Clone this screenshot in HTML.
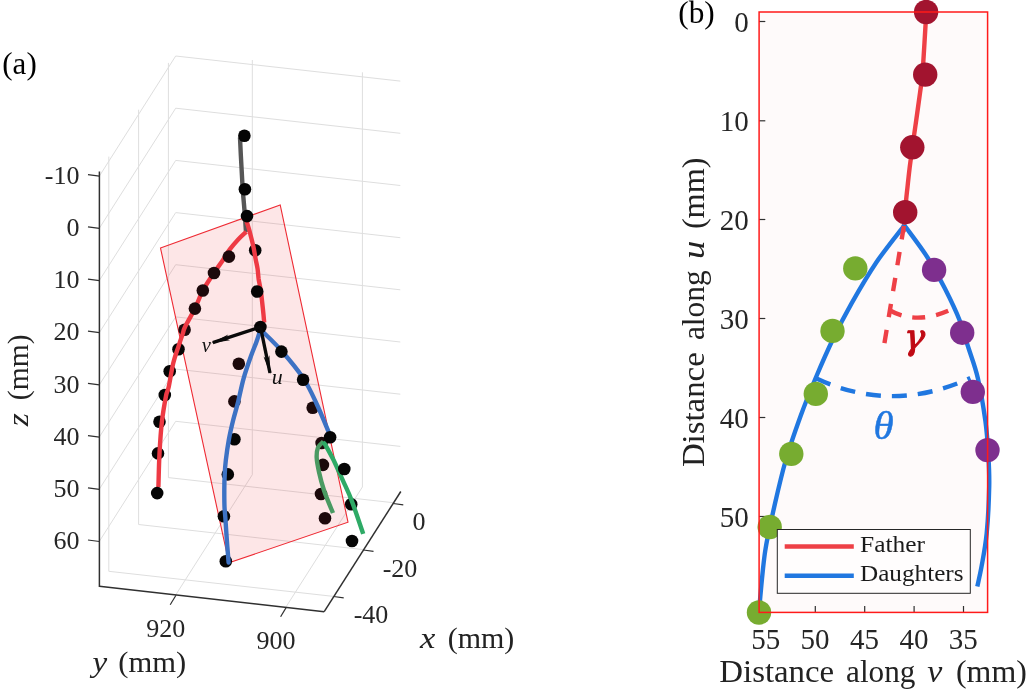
<!DOCTYPE html>
<html><head><meta charset="utf-8"><title>Figure</title>
<style>
html,body{margin:0;padding:0;background:#fff;}
svg{display:block;font-family:"Liberation Serif",serif;}
.g{stroke:#dedede;stroke-width:1;fill:none;}
.ax{stroke:#303030;stroke-width:1.5;fill:none;}
.tl{stroke:#303030;stroke-width:1.2;fill:none;}
.tk{font-size:26px;fill:#262626;}
.tk2{font-size:29px;fill:#262626;}
.lb{font-size:28px;fill:#222;}
.cv{fill:none;stroke-width:4.4;stroke-linecap:butt;stroke-linejoin:round;}
</style></head>
<body>
<svg width="1027" height="691" viewBox="0 0 1027 691">
<rect width="1027" height="691" fill="#fff"/>
<!-- left plot -->
<g id="grid">
<line class="g" x1="99.3" y1="176.2" x2="175.7" y2="56.0"/>
<line class="g" x1="175.7" y1="56.0" x2="400.3" y2="81.1"/>
<line class="g" x1="99.3" y1="228.3" x2="175.7" y2="108.2"/>
<line class="g" x1="175.7" y1="108.2" x2="400.3" y2="133.3"/>
<line class="g" x1="99.3" y1="280.5" x2="175.7" y2="160.4"/>
<line class="g" x1="175.7" y1="160.4" x2="400.3" y2="185.5"/>
<line class="g" x1="99.3" y1="332.7" x2="175.7" y2="212.6"/>
<line class="g" x1="175.7" y1="212.6" x2="400.3" y2="237.7"/>
<line class="g" x1="99.3" y1="384.9" x2="175.7" y2="264.7"/>
<line class="g" x1="175.7" y1="264.7" x2="400.3" y2="289.8"/>
<line class="g" x1="99.3" y1="437.1" x2="175.7" y2="316.9"/>
<line class="g" x1="175.7" y1="316.9" x2="400.3" y2="342.0"/>
<line class="g" x1="99.3" y1="489.2" x2="175.7" y2="369.1"/>
<line class="g" x1="175.7" y1="369.1" x2="400.3" y2="394.2"/>
<line class="g" x1="99.3" y1="541.4" x2="175.7" y2="421.3"/>
<line class="g" x1="175.7" y1="421.3" x2="400.3" y2="446.4"/>
<line class="g" x1="108.8" y1="156.6" x2="108.8" y2="571.3"/>
<line class="g" x1="108.8" y1="571.3" x2="333.4" y2="596.4"/>
<line class="g" x1="138.6" y1="109.7" x2="138.6" y2="524.5"/>
<line class="g" x1="138.6" y1="524.5" x2="363.2" y2="549.6"/>
<line class="g" x1="168.4" y1="62.9" x2="168.4" y2="477.6"/>
<line class="g" x1="168.4" y1="477.6" x2="393.0" y2="502.7"/>
<line class="g" x1="252.3" y1="60.0" x2="252.3" y2="474.7"/>
<line class="g" x1="252.3" y1="474.7" x2="175.8" y2="594.8"/>
<line class="g" x1="362.4" y1="72.3" x2="362.4" y2="487.0"/>
<line class="g" x1="362.4" y1="487.0" x2="285.9" y2="607.1"/>
</g>
<polygon points="160.5,248 280.2,205 348,522.2 228.9,562.8" fill="#f0303c" fill-opacity="0.12" stroke="#ee2a33" stroke-width="1.1"/>
<g id="dotsb">
<circle cx="255.2" cy="250.2" r="6.3" fill="#050505"/>
<circle cx="184.6" cy="329.7" r="6.3" fill="#1c090b"/>
<circle cx="178.5" cy="349.2" r="6.3" fill="#050505"/>
<circle cx="169.7" cy="371.3" r="6.3" fill="#050505"/>
<circle cx="164.8" cy="395.0" r="6.3" fill="#050505"/>
<circle cx="159.5" cy="421.8" r="6.3" fill="#050505"/>
<circle cx="158.0" cy="453.4" r="6.3" fill="#050505"/>
<circle cx="234.4" cy="401.4" r="6.3" fill="#1c090b"/>
<circle cx="234.4" cy="439.2" r="6.3" fill="#050505"/>
<circle cx="227.8" cy="474.4" r="6.3" fill="#050505"/>
<circle cx="223.9" cy="516.3" r="6.3" fill="#050505"/>
<circle cx="225.8" cy="561.3" r="6.3" fill="#050505"/>
<circle cx="312.7" cy="407.8" r="6.3" fill="#1c090b"/>
<circle cx="321.6" cy="443.0" r="6.3" fill="#1c090b"/>
<circle cx="322.9" cy="464.9" r="6.3" fill="#1c090b"/>
<circle cx="321.0" cy="494.0" r="6.3" fill="#1c090b"/>
<circle cx="351.2" cy="504.3" r="6.3" fill="#050505"/>
</g>
<path class="cv" stroke="#565656" stroke-width="4.3" d="M240.0 137.5 C240.2 141.2 240.6 151.2 241.1 160.0 C241.6 168.8 242.2 181.3 242.8 190.0 C243.4 198.7 244.1 205.0 244.6 212.0 C245.1 219.0 245.8 228.7 246.0 232.0"/>
<path class="cv" stroke="#ee3a44" stroke-width="3.9" d="M246.6 217.0 C246.6 217.7 246.1 218.7 246.6 221.0 C247.1 223.3 248.3 226.4 249.4 230.6 C250.5 234.8 252.3 241.6 253.3 246.3 C254.3 251.0 254.9 255.0 255.6 258.8 C256.3 262.6 257.1 265.7 257.6 269.0 C258.1 272.3 258.1 275.1 258.6 278.8 C259.2 282.6 260.2 286.6 260.9 291.5 C261.6 296.4 262.2 302.8 262.8 308.0 C263.4 313.2 264.0 320.1 264.2 322.5"/>
<path class="cv" stroke="#ee3a44" stroke-width="3.9" d="M246.3 231.8 C245.0 233.0 241.2 236.3 238.4 239.2 C235.7 242.1 232.4 245.9 229.8 249.4 C227.2 252.9 225.6 256.1 223.0 260.0 C220.4 263.9 217.3 267.8 214.0 272.9 C210.7 278.0 206.1 284.5 202.9 290.5 C199.7 296.5 197.8 302.6 194.8 308.7 C191.8 314.8 187.0 322.9 185.0 327.0 C183.0 331.1 183.9 330.4 182.8 333.6 C181.7 336.8 180.1 341.3 178.5 346.3 C176.9 351.3 174.7 357.0 173.1 363.8 C171.5 370.6 169.9 381.6 168.7 387.0 C167.5 392.4 167.1 390.2 166.0 396.0 C164.9 401.8 163.0 412.2 161.9 421.8 C160.8 431.4 160.1 442.5 159.5 453.4 C158.9 464.3 158.6 481.4 158.4 487.0"/>
<path class="cv" stroke="#3d72c4" stroke-width="3.9" d="M260.0 331.0 C259.4 332.8 258.0 337.5 256.5 341.7 C255.0 345.9 253.1 350.1 250.9 356.3 C248.7 362.5 245.6 371.3 243.5 378.8 C241.4 386.3 239.9 394.6 238.2 401.5 C236.5 408.4 234.8 413.6 233.2 420.0 C231.6 426.4 230.0 433.3 228.8 440.0 C227.6 446.7 226.5 454.6 225.8 460.4 C225.1 466.2 224.9 469.5 224.7 474.6 C224.4 479.7 224.3 485.4 224.3 490.8 C224.3 496.2 224.3 502.6 224.5 507.0 C224.7 511.4 224.9 511.8 225.3 517.2 C225.7 522.6 226.3 532.4 226.8 539.5 C227.3 546.6 228.1 556.2 228.4 560.0 C228.7 563.8 228.6 562.1 228.6 562.5"/>
<path class="cv" stroke="#3d72c4" stroke-width="3.9" d="M262.5 331.5 C265.6 334.6 274.2 342.5 281.0 350.2 C287.8 357.9 297.1 368.9 303.1 377.9 C309.1 386.9 312.5 395.1 316.8 404.2 C321.1 413.3 326.8 427.6 328.8 432.3"/>
<path class="cv" stroke="#4a9a62" stroke-width="3.4" d="M323.5 441.5 C322.6 442.5 319.1 444.8 318.0 447.5 C316.9 450.2 316.5 453.9 316.7 458.0 C316.9 462.1 317.8 466.5 319.0 472.0 C320.2 477.5 321.9 484.2 324.2 491.0 C326.5 497.8 331.5 509.3 333.0 513.0"/>
<path class="cv" stroke="#2eaa66" stroke-width="3.5" d="M323.5 441.5 C325.1 444.5 330.0 452.8 333.3 459.5 C336.6 466.2 340.4 475.1 343.5 481.9 C346.6 488.7 348.3 491.7 351.6 500.4 C354.9 509.1 361.3 528.3 363.2 533.9"/>
<g id="dotsf">
<circle cx="244.4" cy="135.8" r="6.3" fill="#050505"/>
<circle cx="244.9" cy="189.3" r="6.3" fill="#050505"/>
<circle cx="247.0" cy="216.1" r="6.3" fill="#050505"/>
<circle cx="257.2" cy="291.5" r="6.3" fill="#050505"/>
<circle cx="260.4" cy="327.0" r="6.3" fill="#050505"/>
<circle cx="228.9" cy="256.6" r="6.3" fill="#1c090b"/>
<circle cx="214.0" cy="273.0" r="6.3" fill="#1c090b"/>
<circle cx="202.8" cy="290.5" r="6.3" fill="#1c090b"/>
<circle cx="194.9" cy="308.6" r="6.3" fill="#1c090b"/>
<circle cx="157.2" cy="493.1" r="6.3" fill="#050505"/>
<circle cx="238.8" cy="363.8" r="6.3" fill="#1c090b"/>
<circle cx="281.4" cy="351.6" r="6.3" fill="#050505"/>
<circle cx="303.1" cy="379.8" r="6.3" fill="#050505"/>
<circle cx="330.1" cy="437.3" r="6.3" fill="#050505"/>
<circle cx="325.0" cy="518.3" r="6.3" fill="#1c090b"/>
<circle cx="344.3" cy="469.0" r="6.3" fill="#050505"/>
<circle cx="352.0" cy="541.0" r="6.3" fill="#050505"/>
</g>
<g id="arrows" stroke="#0a0a0a" fill="#0a0a0a">
<line x1="260.4" y1="327" x2="212.8" y2="342.6" stroke-width="3.4"/>
<polygon points="211,343.2 228.2,334.4 225.3,338.5 230,340.2" stroke="none"/>
<line x1="260.6" y1="327.5" x2="270" y2="373" stroke-width="3.4"/>
<polygon points="270.3,374.4 263.5,356.4 267.3,359.7 269.4,355.2" stroke="none"/>
</g>
<text x="201.8" y="352" font-style="italic" font-size="20.5" fill="#111">v</text>
<text x="271.8" y="384.3" font-style="italic" font-size="22" fill="#111">u</text>
<g id="laxes">
<line class="ax" x1="99.4" y1="171.5" x2="99.4" y2="586.9" stroke-width="1.6"/>
<line class="ax" x1="99.3" y1="586.3" x2="324.2" y2="611.7" stroke-width="1.3"/>
<line class="ax" x1="324.2" y1="611.7" x2="400.8" y2="491.5" stroke-width="1.3"/>
<line class="tl" x1="99.4" y1="176.2" x2="88.0" y2="174.7"/><text class="tk" text-anchor="end" x="79.5" y="183.9">-10</text>
<line class="tl" x1="99.4" y1="228.4" x2="88.0" y2="226.9"/><text class="tk" text-anchor="end" x="79.5" y="236.1">0</text>
<line class="tl" x1="99.4" y1="280.6" x2="88.0" y2="279.1"/><text class="tk" text-anchor="end" x="79.5" y="288.3">10</text>
<line class="tl" x1="99.4" y1="332.7" x2="88.0" y2="331.2"/><text class="tk" text-anchor="end" x="79.5" y="340.4">20</text>
<line class="tl" x1="99.4" y1="384.9" x2="88.0" y2="383.4"/><text class="tk" text-anchor="end" x="79.5" y="392.6">30</text>
<line class="tl" x1="99.4" y1="437.1" x2="88.0" y2="435.6"/><text class="tk" text-anchor="end" x="79.5" y="444.8">40</text>
<line class="tl" x1="99.4" y1="489.3" x2="88.0" y2="487.8"/><text class="tk" text-anchor="end" x="79.5" y="497.0">50</text>
<line class="tl" x1="99.4" y1="541.5" x2="88.0" y2="540.0"/><text class="tk" text-anchor="end" x="79.5" y="549.2">60</text>
<line class="tl" x1="176.0" y1="595.3" x2="170.2" y2="604.7"/><text class="tk" text-anchor="middle" x="165.7" y="636.8">920</text>
<line class="tl" x1="286.1" y1="607.6" x2="280.6" y2="616.7"/><text class="tk" text-anchor="middle" x="275.9" y="649.0">900</text>
<line class="tl" x1="393.2" y1="503.5" x2="403.3" y2="504.9"/><text class="tk" text-anchor="middle" x="419.0" y="529.5">0</text>
<line class="tl" x1="363.4" y1="550.0" x2="373.5" y2="551.4"/><text class="tk" text-anchor="middle" x="400.0" y="576.5">-20</text>
<line class="tl" x1="333.6" y1="596.5" x2="343.7" y2="597.9"/><text class="tk" text-anchor="middle" x="371.0" y="623.0">-40</text>

</g>
<text x="2.3" y="74" font-size="31" fill="#000">(a)</text>
<text class="lb" style="font-size:28.5px" y="672.3"><tspan x="92.5" textLength="14.7" lengthAdjust="spacingAndGlyphs" font-style="italic">y</tspan> <tspan x="118.3" textLength="67.9" lengthAdjust="spacingAndGlyphs">(mm)</tspan></text>
<text class="lb" style="font-size:28.5px" y="648.4"><tspan x="419.9" textLength="15.3" lengthAdjust="spacingAndGlyphs" font-style="italic">x</tspan> <tspan x="447.7" textLength="66.6" lengthAdjust="spacingAndGlyphs">(mm)</tspan></text>
<text class="lb" style="font-size:28.5px" transform="translate(27.7,425.8) rotate(-90)" y="0"><tspan x="-0.4" textLength="13.0" lengthAdjust="spacingAndGlyphs" font-style="italic">z</tspan> <tspan x="25.6" textLength="65.9" lengthAdjust="spacingAndGlyphs">(mm)</tspan></text>
<text class="lb" style="font-size:30.5px" y="682.2"><tspan x="719.3" textLength="114.9" lengthAdjust="spacingAndGlyphs">Distance</tspan> <tspan x="846.1" textLength="69.3" lengthAdjust="spacingAndGlyphs">along</tspan> <tspan x="927.3" textLength="15.1" lengthAdjust="spacingAndGlyphs" font-style="italic">v</tspan> <tspan x="956.0" textLength="70.8" lengthAdjust="spacingAndGlyphs">(mm)</tspan></text>
<text class="lb" style="font-size:30.5px" transform="translate(704,466.7) rotate(-90)" y="0"><tspan x="-0.4" textLength="114.8" lengthAdjust="spacingAndGlyphs">Distance</tspan> <tspan x="126.6" textLength="69.8" lengthAdjust="spacingAndGlyphs">along</tspan> <tspan x="207.6" textLength="18.3" lengthAdjust="spacingAndGlyphs" font-style="italic">u</tspan> <tspan x="237.6" textLength="71.6" lengthAdjust="spacingAndGlyphs">(mm)</tspan></text>

<!-- right plot -->
<rect x="759.1" y="12" width="228.5" height="600.4" fill="#fefafa"/>
<path class="cv" stroke="#ee4046" d="M926.2 12.0 C926.1 14.0 926.1 15.7 925.6 24.0 C925.1 32.3 923.9 52.7 923.3 62.0 C922.7 71.3 922.3 74.8 921.8 80.0 C921.2 85.2 921.0 85.8 920.0 93.0 C919.0 100.2 917.1 114.2 915.8 123.3 C914.5 132.3 913.4 139.7 912.4 147.3 C911.4 154.9 910.4 161.5 909.5 168.9 C908.6 176.3 907.8 184.4 907.0 191.6 C906.2 198.8 905.6 205.3 905.0 212.0 C904.4 218.7 903.8 228.7 903.5 232.0"/>
<path class="cv" stroke="#2077e0" d="M904.4 225.3 C899.8 231.4 885.5 248.9 876.6 262.0 C867.8 275.1 858.5 291.1 851.3 303.8 C844.1 316.5 839.3 325.9 833.5 338.0 C827.7 350.1 821.8 363.5 816.3 376.5 C810.8 389.5 805.8 401.8 800.6 416.0 C795.5 430.2 789.8 446.2 785.4 461.5 C781.0 476.8 777.4 493.1 774.0 508.0 C770.6 522.9 767.5 535.8 765.2 551.0 C762.9 566.2 761.0 589.7 760.1 599.0 C759.2 608.3 759.7 605.7 759.6 607.0"/>
<path class="cv" stroke="#2077e0" d="M904.4 225.3 C908.2 230.6 920.5 246.4 927.2 257.0 C934.0 267.6 939.4 277.9 944.9 288.6 C950.4 299.4 956.2 311.6 960.1 321.5 C964.0 331.4 965.5 338.6 968.5 348.0 C971.5 357.4 975.0 365.8 977.8 378.0 C980.6 390.2 983.6 408.3 985.4 421.0 C987.1 433.7 987.7 443.0 988.3 454.0 C988.9 465.0 989.5 473.6 989.2 486.8 C988.9 500.0 988.0 520.1 986.7 533.3 C985.4 546.5 983.2 557.3 981.6 566.2 C980.0 575.1 978.0 583.1 977.3 586.5"/>
<path class="cv" stroke="#ee4046" stroke-width="4" stroke-dasharray="13.5 12.8" d="M903.9 226 L884.2 344.5"/>
<path class="cv" stroke="#ee4046" stroke-width="4" stroke-dasharray="13 11" d="M889.5 310.3 Q917 325.5 951.5 309.3"/>
<path class="cv" stroke="#2077e0" stroke-width="4" stroke-dasharray="15 11" d="M816.5 378.5 Q892 414 970.3 378"/>
<line class="tl" x1="759" y1="21.5" x2="765.3" y2="21.5"/>
<line class="tl" x1="759" y1="120.8" x2="765.3" y2="120.8"/>
<line class="tl" x1="759" y1="219.5" x2="765.3" y2="219.5"/>
<line class="tl" x1="759" y1="318.5" x2="765.3" y2="318.5"/>
<line class="tl" x1="759" y1="417.5" x2="765.3" y2="417.5"/>
<line class="tl" x1="759" y1="516.5" x2="765.3" y2="516.5"/>
<line class="tl" x1="765.9" y1="612.3" x2="765.9" y2="606.0"/>
<line class="tl" x1="815.3" y1="612.3" x2="815.3" y2="606.0"/>
<line class="tl" x1="864.7" y1="612.3" x2="864.7" y2="606.0"/>
<line class="tl" x1="914.1" y1="612.3" x2="914.1" y2="606.0"/>
<line class="tl" x1="963.5" y1="612.3" x2="963.5" y2="606.0"/>

<circle cx="926.1" cy="12.0" r="12.2" fill="#a2142f"/>
<circle cx="925.2" cy="74.6" r="12.2" fill="#a2142f"/>
<circle cx="912.3" cy="147.3" r="12.2" fill="#a2142f"/>
<circle cx="905.2" cy="212.2" r="12.2" fill="#a2142f"/>
<circle cx="855.3" cy="268.4" r="12.2" fill="#77ac30"/>
<circle cx="832.5" cy="330.9" r="12.2" fill="#77ac30"/>
<circle cx="815.8" cy="393.9" r="12.2" fill="#77ac30"/>
<circle cx="791.3" cy="453.9" r="12.2" fill="#77ac30"/>
<circle cx="769.7" cy="527.0" r="12.2" fill="#77ac30"/>
<circle cx="759.0" cy="612.5" r="12.2" fill="#77ac30"/>
<circle cx="934.1" cy="269.9" r="12.2" fill="#7e2f8e"/>
<circle cx="962.2" cy="332.7" r="12.2" fill="#7e2f8e"/>
<circle cx="972.8" cy="391.9" r="12.2" fill="#7e2f8e"/>
<circle cx="987.5" cy="450.1" r="12.2" fill="#7e2f8e"/>
<text transform="translate(900.7,348.6) skewX(-14)" font-size="35" font-family="'DejaVu Math TeX Gyre','DejaVu Serif',serif" fill="#c00a14" stroke="#c00a14" stroke-width="1.1" stroke-linejoin="round">γ</text>
<text x="873.5" y="438.5" font-size="41" font-style="italic" fill="#2077e0" stroke="#2077e0" stroke-width="0.5">θ</text>
<rect x="759.1" y="12" width="228.5" height="600.4" fill="none" stroke="#ff1a1a" stroke-width="1.5"/>
<text class="tk2" text-anchor="end" x="748.7" y="32.0">0</text>
<text class="tk2" text-anchor="end" x="748.7" y="131.3">10</text>
<text class="tk2" text-anchor="end" x="748.7" y="230.0">20</text>
<text class="tk2" text-anchor="end" x="748.7" y="329.0">30</text>
<text class="tk2" text-anchor="end" x="748.7" y="428.0">40</text>
<text class="tk2" text-anchor="end" x="748.7" y="527.0">50</text>
<text class="tk2" text-anchor="middle" x="765.7" y="648.9">55</text>
<text class="tk2" text-anchor="middle" x="815.1" y="648.9">50</text>
<text class="tk2" text-anchor="middle" x="864.5" y="648.9">45</text>
<text class="tk2" text-anchor="middle" x="913.9" y="648.9">40</text>
<text class="tk2" text-anchor="middle" x="963.3" y="648.9">35</text>

<rect x="777.3" y="529.5" width="193" height="63.8" fill="#fffdfd" stroke="#262626" stroke-width="1"/>
<line x1="784.7" y1="546.5" x2="853.8" y2="546.5" stroke="#ee4046" stroke-width="4.4"/>
<line x1="784.7" y1="575.8" x2="853.8" y2="575.8" stroke="#2077e0" stroke-width="4.4"/>
<text x="860" y="552.3" font-size="23.5" fill="#1a1a1a" textLength="65" lengthAdjust="spacingAndGlyphs">Father</text>
<text x="860" y="581.4" font-size="23.5" fill="#1a1a1a" textLength="103.5" lengthAdjust="spacingAndGlyphs">Daughters</text>
<text x="678.3" y="23.4" font-size="31.3" fill="#000">(b)</text>
</svg>
</body></html>
